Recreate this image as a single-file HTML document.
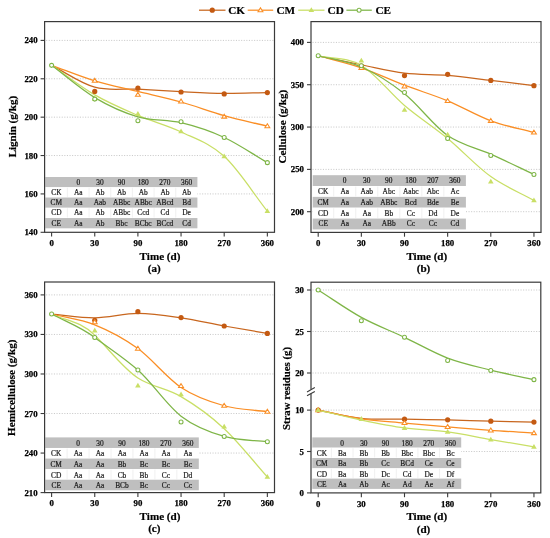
<!DOCTYPE html>
<html><head><meta charset="utf-8"><title>chart</title>
<style>
html,body{margin:0;padding:0;background:#fff;}
body{width:550px;height:538px;overflow:hidden;}
svg{display:block;will-change:transform;}
text{font-family:"Liberation Serif",serif;}
.tb{font-size:7.4px;fill:#1c1c1c;text-anchor:middle;stroke:#222;stroke-width:0.22px;}
.yt{font-size:8.8px;font-weight:bold;fill:#000;text-anchor:end;stroke:#000;stroke-width:0.25px;}
.xt{font-size:8.8px;font-weight:bold;fill:#000;text-anchor:middle;stroke:#000;stroke-width:0.25px;}
.ti{font-size:11.1px;font-weight:bold;fill:#000;text-anchor:middle;stroke:#000;stroke-width:0.2px;}
.lg{font-size:11.2px;font-weight:bold;fill:#000;stroke:#000;stroke-width:0.2px;}
</style></head>
<body>
<svg width="550" height="538" viewBox="0 0 550 538">
<rect width="550" height="538" fill="#fff"/>
<line x1="199" y1="10.2" x2="225.5" y2="10.2" stroke="#C8661E" stroke-width="1.25"/>
<circle cx="212.25" cy="10.2" r="2.6" fill="#C45A12"/>
<text x="228.2" y="13.9" class="lg">CK</text>
<line x1="247.7" y1="10.2" x2="273.2" y2="10.2" stroke="#FA8E25" stroke-width="1.25"/>
<polygon points="260.45,7.86 258,11.76 262.9,11.76" fill="#fff" stroke="#FA8E25" stroke-width="1.05" stroke-linejoin="miter"/>
<text x="276.5" y="13.9" class="lg">CM</text>
<line x1="298.2" y1="10.2" x2="324.5" y2="10.2" stroke="#C9DF66" stroke-width="1.25"/>
<polygon points="311.35,7.32 308.55,12.12 314.15,12.12" fill="#C9DF66"/>
<text x="327.6" y="13.9" class="lg">CD</text>
<line x1="346.4" y1="10.2" x2="371.8" y2="10.2" stroke="#7EB547" stroke-width="1.25"/>
<circle cx="359.1" cy="10.2" r="2.0" fill="#fff" stroke="#7EB547" stroke-width="1.05"/>
<text x="375.5" y="13.9" class="lg">CE</text>
<line x1="46.1" y1="40.4" x2="273.9" y2="40.4" stroke="#cacaca" stroke-width="1" stroke-dasharray="1.1 1.5"/>
<line x1="46.1" y1="78.78" x2="273.9" y2="78.78" stroke="#cacaca" stroke-width="1" stroke-dasharray="1.1 1.5"/>
<line x1="46.1" y1="117.16" x2="273.9" y2="117.16" stroke="#cacaca" stroke-width="1" stroke-dasharray="1.1 1.5"/>
<line x1="46.1" y1="155.54" x2="273.9" y2="155.54" stroke="#cacaca" stroke-width="1" stroke-dasharray="1.1 1.5"/>
<line x1="46.1" y1="193.92" x2="273.9" y2="193.92" stroke="#cacaca" stroke-width="1" stroke-dasharray="1.1 1.5"/>
<rect x="45.3" y="177" width="152.1" height="10.26" fill="#bfbfbf"/>
<text x="78.23" y="184.63" class="tb">0</text>
<text x="99.9" y="184.63" class="tb">30</text>
<text x="121.57" y="184.63" class="tb">90</text>
<text x="143.23" y="184.63" class="tb">180</text>
<text x="164.9" y="184.63" class="tb">270</text>
<text x="186.57" y="184.63" class="tb">360</text>
<rect x="45.3" y="187.26" width="152.1" height="10.26" fill="#fff"/>
<line x1="67.4" y1="187.76" x2="67.4" y2="197.02" stroke="#ececec" stroke-width="0.8"/>
<line x1="89.07" y1="187.76" x2="89.07" y2="197.02" stroke="#ececec" stroke-width="0.8"/>
<line x1="110.73" y1="187.76" x2="110.73" y2="197.02" stroke="#ececec" stroke-width="0.8"/>
<line x1="132.4" y1="187.76" x2="132.4" y2="197.02" stroke="#ececec" stroke-width="0.8"/>
<line x1="154.07" y1="187.76" x2="154.07" y2="197.02" stroke="#ececec" stroke-width="0.8"/>
<line x1="175.73" y1="187.76" x2="175.73" y2="197.02" stroke="#ececec" stroke-width="0.8"/>
<text x="56.35" y="194.89" class="tb">CK</text>
<text x="78.23" y="194.89" class="tb">Aa</text>
<text x="99.9" y="194.89" class="tb">Ab</text>
<text x="121.57" y="194.89" class="tb">Ab</text>
<text x="143.23" y="194.89" class="tb">Ab</text>
<text x="164.9" y="194.89" class="tb">Ab</text>
<text x="186.57" y="194.89" class="tb">Ab</text>
<rect x="45.3" y="197.52" width="152.1" height="10.26" fill="#bfbfbf"/>
<text x="56.35" y="205.15" class="tb">CM</text>
<text x="78.23" y="205.15" class="tb">Aa</text>
<text x="99.9" y="205.15" class="tb">Aab</text>
<text x="121.57" y="205.15" class="tb">ABbc</text>
<text x="143.23" y="205.15" class="tb">ABbc</text>
<text x="164.9" y="205.15" class="tb">ABcd</text>
<text x="186.57" y="205.15" class="tb">Bd</text>
<rect x="45.3" y="207.78" width="152.1" height="10.26" fill="#fff"/>
<line x1="67.4" y1="208.28" x2="67.4" y2="217.54" stroke="#ececec" stroke-width="0.8"/>
<line x1="89.07" y1="208.28" x2="89.07" y2="217.54" stroke="#ececec" stroke-width="0.8"/>
<line x1="110.73" y1="208.28" x2="110.73" y2="217.54" stroke="#ececec" stroke-width="0.8"/>
<line x1="132.4" y1="208.28" x2="132.4" y2="217.54" stroke="#ececec" stroke-width="0.8"/>
<line x1="154.07" y1="208.28" x2="154.07" y2="217.54" stroke="#ececec" stroke-width="0.8"/>
<line x1="175.73" y1="208.28" x2="175.73" y2="217.54" stroke="#ececec" stroke-width="0.8"/>
<text x="56.35" y="215.41" class="tb">CD</text>
<text x="78.23" y="215.41" class="tb">Aa</text>
<text x="99.9" y="215.41" class="tb">Ab</text>
<text x="121.57" y="215.41" class="tb">ABbc</text>
<text x="143.23" y="215.41" class="tb">Ccd</text>
<text x="164.9" y="215.41" class="tb">Cd</text>
<text x="186.57" y="215.41" class="tb">De</text>
<rect x="45.3" y="218.04" width="152.1" height="10.26" fill="#bfbfbf"/>
<text x="56.35" y="225.67" class="tb">CE</text>
<text x="78.23" y="225.67" class="tb">Aa</text>
<text x="99.9" y="225.67" class="tb">Ab</text>
<text x="121.57" y="225.67" class="tb">Bbc</text>
<text x="143.23" y="225.67" class="tb">BCbc</text>
<text x="164.9" y="225.67" class="tb">BCcd</text>
<text x="186.57" y="225.67" class="tb">Cd</text>
<path d="M51.6,65.35 C65.98,72.64 80.37,83.26 94.75,87.22 C109.13,91.19 123.52,88.41 137.9,89.14 C152.28,89.88 166.67,90.93 181.05,91.64 C195.43,92.34 209.82,93.2 224.2,93.36 C238.58,93.52 252.97,92.85 267.35,92.6" fill="none" stroke="#C8661E" stroke-width="1.25" stroke-linejoin="round"/>
<path d="M51.6,65.35 C65.98,70.53 80.37,76.54 94.75,80.89 C109.13,85.24 123.52,87.93 137.9,91.45 C152.28,94.96 166.67,97.97 181.05,102 C195.43,106.03 209.82,111.59 224.2,115.62 C238.58,119.65 252.97,122.66 267.35,126.18" fill="none" stroke="#FA8E25" stroke-width="1.25" stroke-linejoin="round"/>
<path d="M51.6,65.35 C65.98,75.2 80.37,86.55 94.75,94.9 C109.13,103.25 123.52,109.26 137.9,115.43 C152.28,121.61 166.67,125.12 181.05,131.94 C195.43,138.75 209.82,143.1 224.2,156.31 C238.58,169.52 252.97,192.9 267.35,211.19" fill="none" stroke="#C9DF66" stroke-width="1.25" stroke-linejoin="round"/>
<path d="M51.6,65.35 C65.98,76.09 80.37,89.01 94.75,97.59 C109.13,106.16 123.52,112.59 137.9,116.78 C152.28,120.97 166.67,119.27 181.05,122.73 C195.43,126.18 209.82,130.85 224.2,137.5 C238.58,144.15 252.97,154.26 267.35,162.64" fill="none" stroke="#7EB547" stroke-width="1.25" stroke-linejoin="round"/>
<circle cx="94.75" cy="91.45" r="2.6" fill="#C45A12"/>
<circle cx="137.9" cy="88.18" r="2.6" fill="#C45A12"/>
<circle cx="181.05" cy="92.02" r="2.6" fill="#C45A12"/>
<circle cx="224.2" cy="93.94" r="2.6" fill="#C45A12"/>
<circle cx="267.35" cy="92.6" r="2.6" fill="#C45A12"/>
<polygon points="94.75,78.36 92.3,82.26 97.2,82.26" fill="#fff" stroke="#FA8E25" stroke-width="1.05" stroke-linejoin="miter"/>
<polygon points="137.9,92.37 135.45,96.27 140.35,96.27" fill="#fff" stroke="#FA8E25" stroke-width="1.05" stroke-linejoin="miter"/>
<polygon points="181.05,99.08 178.6,102.98 183.5,102.98" fill="#fff" stroke="#FA8E25" stroke-width="1.05" stroke-linejoin="miter"/>
<polygon points="224.2,114.24 221.75,118.14 226.65,118.14" fill="#fff" stroke="#FA8E25" stroke-width="1.05" stroke-linejoin="miter"/>
<polygon points="267.35,123.84 264.9,127.74 269.8,127.74" fill="#fff" stroke="#FA8E25" stroke-width="1.05" stroke-linejoin="miter"/>
<polygon points="94.75,95.86 91.95,100.66 97.55,100.66" fill="#C9DF66"/>
<polygon points="137.9,111.02 135.1,115.82 140.7,115.82" fill="#C9DF66"/>
<polygon points="181.05,128.48 178.25,133.28 183.85,133.28" fill="#C9DF66"/>
<polygon points="224.2,153.43 221.4,158.23 227,158.23" fill="#C9DF66"/>
<polygon points="267.35,208.31 264.55,213.11 270.15,213.11" fill="#C9DF66"/>
<circle cx="51.6" cy="65.35" r="2.0" fill="#fff" stroke="#7EB547" stroke-width="1.05"/>
<circle cx="94.75" cy="99.12" r="2.0" fill="#fff" stroke="#7EB547" stroke-width="1.05"/>
<circle cx="137.9" cy="120.81" r="2.0" fill="#fff" stroke="#7EB547" stroke-width="1.05"/>
<circle cx="181.05" cy="121.77" r="2.0" fill="#fff" stroke="#7EB547" stroke-width="1.05"/>
<circle cx="224.2" cy="137.5" r="2.0" fill="#fff" stroke="#7EB547" stroke-width="1.05"/>
<circle cx="267.35" cy="162.64" r="2.0" fill="#fff" stroke="#7EB547" stroke-width="1.05"/>
<rect x="44.6" y="21.6" width="229.9" height="210.7" fill="none" stroke="#3a3a3a" stroke-width="1.2"/>
<line x1="40.6" y1="40.4" x2="44.6" y2="40.4" stroke="#3a3a3a" stroke-width="1.1"/>
<text x="37.6" y="43.4" class="yt">240</text>
<line x1="40.6" y1="78.78" x2="44.6" y2="78.78" stroke="#3a3a3a" stroke-width="1.1"/>
<text x="37.6" y="81.78" class="yt">220</text>
<line x1="40.6" y1="117.16" x2="44.6" y2="117.16" stroke="#3a3a3a" stroke-width="1.1"/>
<text x="37.6" y="120.16" class="yt">200</text>
<line x1="40.6" y1="155.54" x2="44.6" y2="155.54" stroke="#3a3a3a" stroke-width="1.1"/>
<text x="37.6" y="158.54" class="yt">180</text>
<line x1="40.6" y1="193.92" x2="44.6" y2="193.92" stroke="#3a3a3a" stroke-width="1.1"/>
<text x="37.6" y="196.92" class="yt">160</text>
<line x1="40.6" y1="232.3" x2="44.6" y2="232.3" stroke="#3a3a3a" stroke-width="1.1"/>
<text x="37.6" y="235.3" class="yt">140</text>
<line x1="51.6" y1="232.3" x2="51.6" y2="236.6" stroke="#3a3a3a" stroke-width="1.1"/>
<text x="51.6" y="245.9" class="xt">0</text>
<line x1="94.75" y1="232.3" x2="94.75" y2="236.6" stroke="#3a3a3a" stroke-width="1.1"/>
<text x="94.75" y="245.9" class="xt">30</text>
<line x1="137.9" y1="232.3" x2="137.9" y2="236.6" stroke="#3a3a3a" stroke-width="1.1"/>
<text x="137.9" y="245.9" class="xt">90</text>
<line x1="181.05" y1="232.3" x2="181.05" y2="236.6" stroke="#3a3a3a" stroke-width="1.1"/>
<text x="181.05" y="245.9" class="xt">180</text>
<line x1="224.2" y1="232.3" x2="224.2" y2="236.6" stroke="#3a3a3a" stroke-width="1.1"/>
<text x="224.2" y="245.9" class="xt">270</text>
<line x1="267.35" y1="232.3" x2="267.35" y2="236.6" stroke="#3a3a3a" stroke-width="1.1"/>
<text x="267.35" y="245.9" class="xt">360</text>
<text x="160" y="259.8" class="ti">Time (d)</text>
<text x="154.3" y="271.9" class="ti">(a)</text>
<text transform="translate(15.8,126.6) rotate(-90)" class="ti" style="font-size:11px">Lignin (g/kg)</text>
<line x1="312.5" y1="42.4" x2="540.4" y2="42.4" stroke="#cacaca" stroke-width="1" stroke-dasharray="1.1 1.5"/>
<line x1="312.5" y1="84.72" x2="540.4" y2="84.72" stroke="#cacaca" stroke-width="1" stroke-dasharray="1.1 1.5"/>
<line x1="312.5" y1="127.05" x2="540.4" y2="127.05" stroke="#cacaca" stroke-width="1" stroke-dasharray="1.1 1.5"/>
<line x1="312.5" y1="169.38" x2="540.4" y2="169.38" stroke="#cacaca" stroke-width="1" stroke-dasharray="1.1 1.5"/>
<line x1="312.5" y1="211.7" x2="540.4" y2="211.7" stroke="#cacaca" stroke-width="1" stroke-dasharray="1.1 1.5"/>
<rect x="312.7" y="175.2" width="153.2" height="10.84" fill="#bfbfbf"/>
<text x="344.72" y="183.12" class="tb">0</text>
<text x="366.75" y="183.12" class="tb">30</text>
<text x="388.78" y="183.12" class="tb">90</text>
<text x="410.82" y="183.12" class="tb">180</text>
<text x="432.85" y="183.12" class="tb">207</text>
<text x="454.88" y="183.12" class="tb">360</text>
<rect x="312.7" y="186.04" width="153.2" height="10.84" fill="#fff"/>
<line x1="333.7" y1="186.54" x2="333.7" y2="196.38" stroke="#ececec" stroke-width="0.8"/>
<line x1="355.73" y1="186.54" x2="355.73" y2="196.38" stroke="#ececec" stroke-width="0.8"/>
<line x1="377.77" y1="186.54" x2="377.77" y2="196.38" stroke="#ececec" stroke-width="0.8"/>
<line x1="399.8" y1="186.54" x2="399.8" y2="196.38" stroke="#ececec" stroke-width="0.8"/>
<line x1="421.83" y1="186.54" x2="421.83" y2="196.38" stroke="#ececec" stroke-width="0.8"/>
<line x1="443.87" y1="186.54" x2="443.87" y2="196.38" stroke="#ececec" stroke-width="0.8"/>
<text x="323.2" y="193.96" class="tb">CK</text>
<text x="344.72" y="193.96" class="tb">Aa</text>
<text x="366.75" y="193.96" class="tb">Aab</text>
<text x="388.78" y="193.96" class="tb">Abc</text>
<text x="410.82" y="193.96" class="tb">Aabc</text>
<text x="432.85" y="193.96" class="tb">Abc</text>
<text x="454.88" y="193.96" class="tb">Ac</text>
<rect x="312.7" y="196.88" width="153.2" height="10.84" fill="#bfbfbf"/>
<text x="323.2" y="204.8" class="tb">CM</text>
<text x="344.72" y="204.8" class="tb">Aa</text>
<text x="366.75" y="204.8" class="tb">Aab</text>
<text x="388.78" y="204.8" class="tb">ABbc</text>
<text x="410.82" y="204.8" class="tb">Bcd</text>
<text x="432.85" y="204.8" class="tb">Bde</text>
<text x="454.88" y="204.8" class="tb">Be</text>
<rect x="312.7" y="207.72" width="153.2" height="10.84" fill="#fff"/>
<line x1="333.7" y1="208.22" x2="333.7" y2="218.06" stroke="#ececec" stroke-width="0.8"/>
<line x1="355.73" y1="208.22" x2="355.73" y2="218.06" stroke="#ececec" stroke-width="0.8"/>
<line x1="377.77" y1="208.22" x2="377.77" y2="218.06" stroke="#ececec" stroke-width="0.8"/>
<line x1="399.8" y1="208.22" x2="399.8" y2="218.06" stroke="#ececec" stroke-width="0.8"/>
<line x1="421.83" y1="208.22" x2="421.83" y2="218.06" stroke="#ececec" stroke-width="0.8"/>
<line x1="443.87" y1="208.22" x2="443.87" y2="218.06" stroke="#ececec" stroke-width="0.8"/>
<text x="323.2" y="215.64" class="tb">CD</text>
<text x="344.72" y="215.64" class="tb">Aa</text>
<text x="366.75" y="215.64" class="tb">Aa</text>
<text x="388.78" y="215.64" class="tb">Bb</text>
<text x="410.82" y="215.64" class="tb">Cc</text>
<text x="432.85" y="215.64" class="tb">Dd</text>
<text x="454.88" y="215.64" class="tb">De</text>
<rect x="312.7" y="218.56" width="153.2" height="10.84" fill="#bfbfbf"/>
<text x="323.2" y="226.48" class="tb">CE</text>
<text x="344.72" y="226.48" class="tb">Aa</text>
<text x="366.75" y="226.48" class="tb">Aa</text>
<text x="388.78" y="226.48" class="tb">ABb</text>
<text x="410.82" y="226.48" class="tb">Cc</text>
<text x="432.85" y="226.48" class="tb">Cc</text>
<text x="454.88" y="226.48" class="tb">Cd</text>
<path d="M318.2,55.77 C332.58,58.77 346.97,61.84 361.35,64.75 C375.73,67.65 390.12,71.43 404.5,73.21 C418.88,74.99 433.27,74.21 447.65,75.41 C462.03,76.61 476.42,78.7 490.8,80.41 C505.18,82.11 519.57,83.91 533.95,85.66" fill="none" stroke="#C8661E" stroke-width="1.25" stroke-linejoin="round"/>
<path d="M318.2,55.77 C332.58,59.78 346.97,62.9 361.35,67.8 C375.73,72.69 390.12,79.65 404.5,85.15 C418.88,90.65 433.27,94.87 447.65,100.81 C462.03,106.75 476.42,115.51 490.8,120.79 C505.18,126.06 519.57,128.57 533.95,132.47" fill="none" stroke="#FA8E25" stroke-width="1.25" stroke-linejoin="round"/>
<path d="M318.2,55.77 C332.58,58.99 346.97,57.14 361.35,65.42 C375.73,73.71 390.12,93.29 404.5,105.46 C418.88,117.64 433.27,126.63 447.65,138.48 C462.03,150.33 476.42,166.26 490.8,176.57 C505.18,186.88 519.57,192.43 533.95,200.36" fill="none" stroke="#C9DF66" stroke-width="1.25" stroke-linejoin="round"/>
<path d="M318.2,55.77 C332.58,59.5 346.97,60.61 361.35,66.95 C375.73,73.28 390.12,82.35 404.5,93.78 C418.88,105.21 433.27,125.46 447.65,135.52 C462.03,145.57 476.42,147.65 490.8,154.14 C505.18,160.63 519.57,167.68 533.95,174.45" fill="none" stroke="#7EB547" stroke-width="1.25" stroke-linejoin="round"/>
<circle cx="361.35" cy="66.1" r="2.6" fill="#C45A12"/>
<circle cx="404.5" cy="75.58" r="2.6" fill="#C45A12"/>
<circle cx="447.65" cy="74.31" r="2.6" fill="#C45A12"/>
<circle cx="490.8" cy="80.41" r="2.6" fill="#C45A12"/>
<circle cx="533.95" cy="85.66" r="2.6" fill="#C45A12"/>
<polygon points="361.35,65.62 358.9,69.52 363.8,69.52" fill="#fff" stroke="#FA8E25" stroke-width="1.05" stroke-linejoin="miter"/>
<polygon points="404.5,84.08 402.05,87.98 406.95,87.98" fill="#fff" stroke="#FA8E25" stroke-width="1.05" stroke-linejoin="miter"/>
<polygon points="447.65,98.64 445.2,102.54 450.1,102.54" fill="#fff" stroke="#FA8E25" stroke-width="1.05" stroke-linejoin="miter"/>
<polygon points="490.8,118.45 488.35,122.35 493.25,122.35" fill="#fff" stroke="#FA8E25" stroke-width="1.05" stroke-linejoin="miter"/>
<polygon points="533.95,130.13 531.5,134.03 536.4,134.03" fill="#fff" stroke="#FA8E25" stroke-width="1.05" stroke-linejoin="miter"/>
<polygon points="361.35,57.72 358.55,62.52 364.15,62.52" fill="#C9DF66"/>
<polygon points="404.5,106.99 401.7,111.79 407.3,111.79" fill="#C9DF66"/>
<polygon points="447.65,131.79 444.85,136.59 450.45,136.59" fill="#C9DF66"/>
<polygon points="490.8,178.77 488,183.57 493.6,183.57" fill="#C9DF66"/>
<polygon points="533.95,197.48 531.15,202.28 536.75,202.28" fill="#C9DF66"/>
<circle cx="318.2" cy="55.77" r="2.0" fill="#fff" stroke="#7EB547" stroke-width="1.05"/>
<circle cx="361.35" cy="65.76" r="2.0" fill="#fff" stroke="#7EB547" stroke-width="1.05"/>
<circle cx="404.5" cy="92.51" r="2.0" fill="#fff" stroke="#7EB547" stroke-width="1.05"/>
<circle cx="447.65" cy="138.56" r="2.0" fill="#fff" stroke="#7EB547" stroke-width="1.05"/>
<circle cx="490.8" cy="155.49" r="2.0" fill="#fff" stroke="#7EB547" stroke-width="1.05"/>
<circle cx="533.95" cy="174.45" r="2.0" fill="#fff" stroke="#7EB547" stroke-width="1.05"/>
<rect x="311" y="21.6" width="230" height="210.8" fill="none" stroke="#3a3a3a" stroke-width="1.2"/>
<line x1="307" y1="42.4" x2="311" y2="42.4" stroke="#3a3a3a" stroke-width="1.1"/>
<text x="304" y="45.4" class="yt">400</text>
<line x1="307" y1="84.72" x2="311" y2="84.72" stroke="#3a3a3a" stroke-width="1.1"/>
<text x="304" y="87.72" class="yt">350</text>
<line x1="307" y1="127.05" x2="311" y2="127.05" stroke="#3a3a3a" stroke-width="1.1"/>
<text x="304" y="130.05" class="yt">300</text>
<line x1="307" y1="169.38" x2="311" y2="169.38" stroke="#3a3a3a" stroke-width="1.1"/>
<text x="304" y="172.38" class="yt">250</text>
<line x1="307" y1="211.7" x2="311" y2="211.7" stroke="#3a3a3a" stroke-width="1.1"/>
<text x="304" y="214.7" class="yt">200</text>
<line x1="318.2" y1="232.4" x2="318.2" y2="236.7" stroke="#3a3a3a" stroke-width="1.1"/>
<text x="318.2" y="246" class="xt">0</text>
<line x1="361.35" y1="232.4" x2="361.35" y2="236.7" stroke="#3a3a3a" stroke-width="1.1"/>
<text x="361.35" y="246" class="xt">30</text>
<line x1="404.5" y1="232.4" x2="404.5" y2="236.7" stroke="#3a3a3a" stroke-width="1.1"/>
<text x="404.5" y="246" class="xt">90</text>
<line x1="447.65" y1="232.4" x2="447.65" y2="236.7" stroke="#3a3a3a" stroke-width="1.1"/>
<text x="447.65" y="246" class="xt">180</text>
<line x1="490.8" y1="232.4" x2="490.8" y2="236.7" stroke="#3a3a3a" stroke-width="1.1"/>
<text x="490.8" y="246" class="xt">270</text>
<line x1="533.95" y1="232.4" x2="533.95" y2="236.7" stroke="#3a3a3a" stroke-width="1.1"/>
<text x="533.95" y="246" class="xt">360</text>
<text x="426.8" y="259.9" class="ti">Time (d)</text>
<text x="423.5" y="272" class="ti">(b)</text>
<text transform="translate(286.2,126.7) rotate(-90)" class="ti" style="font-size:11.1px">Cellulose (g/kg)</text>
<line x1="46.1" y1="294.9" x2="273.9" y2="294.9" stroke="#cacaca" stroke-width="1" stroke-dasharray="1.1 1.5"/>
<line x1="46.1" y1="334.44" x2="273.9" y2="334.44" stroke="#cacaca" stroke-width="1" stroke-dasharray="1.1 1.5"/>
<line x1="46.1" y1="373.98" x2="273.9" y2="373.98" stroke="#cacaca" stroke-width="1" stroke-dasharray="1.1 1.5"/>
<line x1="46.1" y1="413.52" x2="273.9" y2="413.52" stroke="#cacaca" stroke-width="1" stroke-dasharray="1.1 1.5"/>
<line x1="46.1" y1="453.06" x2="273.9" y2="453.06" stroke="#cacaca" stroke-width="1" stroke-dasharray="1.1 1.5"/>
<rect x="45.3" y="437.4" width="153.5" height="10.58" fill="#bfbfbf"/>
<text x="78.07" y="445.79" class="tb">0</text>
<text x="100.02" y="445.79" class="tb">30</text>
<text x="121.97" y="445.79" class="tb">90</text>
<text x="143.93" y="445.79" class="tb">180</text>
<text x="165.88" y="445.79" class="tb">270</text>
<text x="187.82" y="445.79" class="tb">360</text>
<rect x="45.3" y="447.98" width="153.5" height="10.58" fill="#fff"/>
<line x1="67.1" y1="448.48" x2="67.1" y2="458.06" stroke="#ececec" stroke-width="0.8"/>
<line x1="89.05" y1="448.48" x2="89.05" y2="458.06" stroke="#ececec" stroke-width="0.8"/>
<line x1="111" y1="448.48" x2="111" y2="458.06" stroke="#ececec" stroke-width="0.8"/>
<line x1="132.95" y1="448.48" x2="132.95" y2="458.06" stroke="#ececec" stroke-width="0.8"/>
<line x1="154.9" y1="448.48" x2="154.9" y2="458.06" stroke="#ececec" stroke-width="0.8"/>
<line x1="176.85" y1="448.48" x2="176.85" y2="458.06" stroke="#ececec" stroke-width="0.8"/>
<text x="56.2" y="456.37" class="tb">CK</text>
<text x="78.07" y="456.37" class="tb">Aa</text>
<text x="100.02" y="456.37" class="tb">Aa</text>
<text x="121.97" y="456.37" class="tb">Aa</text>
<text x="143.93" y="456.37" class="tb">Aa</text>
<text x="165.88" y="456.37" class="tb">Aa</text>
<text x="187.82" y="456.37" class="tb">Aa</text>
<rect x="45.3" y="458.56" width="153.5" height="10.58" fill="#bfbfbf"/>
<text x="56.2" y="466.95" class="tb">CM</text>
<text x="78.07" y="466.95" class="tb">Aa</text>
<text x="100.02" y="466.95" class="tb">Aa</text>
<text x="121.97" y="466.95" class="tb">Bb</text>
<text x="143.93" y="466.95" class="tb">Bc</text>
<text x="165.88" y="466.95" class="tb">Bc</text>
<text x="187.82" y="466.95" class="tb">Bc</text>
<rect x="45.3" y="469.14" width="153.5" height="10.58" fill="#fff"/>
<line x1="67.1" y1="469.64" x2="67.1" y2="479.22" stroke="#ececec" stroke-width="0.8"/>
<line x1="89.05" y1="469.64" x2="89.05" y2="479.22" stroke="#ececec" stroke-width="0.8"/>
<line x1="111" y1="469.64" x2="111" y2="479.22" stroke="#ececec" stroke-width="0.8"/>
<line x1="132.95" y1="469.64" x2="132.95" y2="479.22" stroke="#ececec" stroke-width="0.8"/>
<line x1="154.9" y1="469.64" x2="154.9" y2="479.22" stroke="#ececec" stroke-width="0.8"/>
<line x1="176.85" y1="469.64" x2="176.85" y2="479.22" stroke="#ececec" stroke-width="0.8"/>
<text x="56.2" y="477.53" class="tb">CD</text>
<text x="78.07" y="477.53" class="tb">Aa</text>
<text x="100.02" y="477.53" class="tb">Aa</text>
<text x="121.97" y="477.53" class="tb">Cb</text>
<text x="143.93" y="477.53" class="tb">Bb</text>
<text x="165.88" y="477.53" class="tb">Cc</text>
<text x="187.82" y="477.53" class="tb">Dd</text>
<rect x="45.3" y="479.72" width="153.5" height="10.58" fill="#bfbfbf"/>
<text x="56.2" y="488.11" class="tb">CE</text>
<text x="78.07" y="488.11" class="tb">Aa</text>
<text x="100.02" y="488.11" class="tb">Aa</text>
<text x="121.97" y="488.11" class="tb">BCb</text>
<text x="143.93" y="488.11" class="tb">Bc</text>
<text x="165.88" y="488.11" class="tb">Cc</text>
<text x="187.82" y="488.11" class="tb">Cc</text>
<path d="M51.6,314.01 C65.98,315.29 80.37,317.92 94.75,317.83 C109.13,317.75 123.52,313.48 137.9,313.48 C152.28,313.48 166.67,315.75 181.05,317.83 C195.43,319.92 209.82,323.41 224.2,326 C238.58,328.6 252.97,330.93 267.35,333.39" fill="none" stroke="#C8661E" stroke-width="1.25" stroke-linejoin="round"/>
<path d="M51.6,314.01 C65.98,317.61 80.37,319.06 94.75,324.82 C109.13,330.57 123.52,338.11 137.9,348.54 C152.28,358.98 166.67,377.89 181.05,387.42 C195.43,396.96 209.82,401.7 224.2,405.74 C238.58,409.79 252.97,409.7 267.35,411.67" fill="none" stroke="#FA8E25" stroke-width="1.25" stroke-linejoin="round"/>
<path d="M51.6,314.01 C65.98,321.04 80.37,320.82 94.75,335.1 C109.13,349.38 123.52,368.71 137.9,377.93 C152.28,387.16 166.67,388.19 181.05,396.65 C195.43,405.11 209.82,415.3 224.2,428.68 C238.58,442.05 252.97,460.84 267.35,476.92" fill="none" stroke="#C9DF66" stroke-width="1.25" stroke-linejoin="round"/>
<path d="M51.6,314.01 C65.98,321.83 80.37,326.71 94.75,337.47 C109.13,348.24 123.52,357.29 137.9,370.03 C152.28,382.77 166.67,405.08 181.05,416.16 C195.43,427.23 209.82,432.19 224.2,436.45 C238.58,440.71 252.97,439.97 267.35,441.73" fill="none" stroke="#7EB547" stroke-width="1.25" stroke-linejoin="round"/>
<circle cx="94.75" cy="320.34" r="2.6" fill="#C45A12"/>
<circle cx="137.9" cy="311.64" r="2.6" fill="#C45A12"/>
<circle cx="181.05" cy="317.57" r="2.6" fill="#C45A12"/>
<circle cx="224.2" cy="326" r="2.6" fill="#C45A12"/>
<circle cx="267.35" cy="333.39" r="2.6" fill="#C45A12"/>
<polygon points="94.75,319.84 92.3,323.74 97.2,323.74" fill="#fff" stroke="#FA8E25" stroke-width="1.05" stroke-linejoin="miter"/>
<polygon points="137.9,346.33 135.45,350.23 140.35,350.23" fill="#fff" stroke="#FA8E25" stroke-width="1.05" stroke-linejoin="miter"/>
<polygon points="181.05,383.63 178.6,387.53 183.5,387.53" fill="#fff" stroke="#FA8E25" stroke-width="1.05" stroke-linejoin="miter"/>
<polygon points="224.2,403.4 221.75,407.3 226.65,407.3" fill="#fff" stroke="#FA8E25" stroke-width="1.05" stroke-linejoin="miter"/>
<polygon points="267.35,409.33 264.9,413.23 269.8,413.23" fill="#fff" stroke="#FA8E25" stroke-width="1.05" stroke-linejoin="miter"/>
<polygon points="94.75,327.61 91.95,332.41 97.55,332.41" fill="#C9DF66"/>
<polygon points="137.9,382.7 135.1,387.5 140.7,387.5" fill="#C9DF66"/>
<polygon points="181.05,391.53 178.25,396.33 183.85,396.33" fill="#C9DF66"/>
<polygon points="224.2,423.82 221.4,428.62 227,428.62" fill="#C9DF66"/>
<polygon points="267.35,474.04 264.55,478.84 270.15,478.84" fill="#C9DF66"/>
<circle cx="51.6" cy="314.01" r="2.0" fill="#fff" stroke="#7EB547" stroke-width="1.05"/>
<circle cx="94.75" cy="337.47" r="2.0" fill="#fff" stroke="#7EB547" stroke-width="1.05"/>
<circle cx="137.9" cy="370.03" r="2.0" fill="#fff" stroke="#7EB547" stroke-width="1.05"/>
<circle cx="181.05" cy="421.96" r="2.0" fill="#fff" stroke="#7EB547" stroke-width="1.05"/>
<circle cx="224.2" cy="436.45" r="2.0" fill="#fff" stroke="#7EB547" stroke-width="1.05"/>
<circle cx="267.35" cy="441.73" r="2.0" fill="#fff" stroke="#7EB547" stroke-width="1.05"/>
<rect x="44.6" y="282" width="229.9" height="210.6" fill="none" stroke="#3a3a3a" stroke-width="1.2"/>
<line x1="40.6" y1="294.9" x2="44.6" y2="294.9" stroke="#3a3a3a" stroke-width="1.1"/>
<text x="37.6" y="297.9" class="yt">360</text>
<line x1="40.6" y1="334.44" x2="44.6" y2="334.44" stroke="#3a3a3a" stroke-width="1.1"/>
<text x="37.6" y="337.44" class="yt">330</text>
<line x1="40.6" y1="373.98" x2="44.6" y2="373.98" stroke="#3a3a3a" stroke-width="1.1"/>
<text x="37.6" y="376.98" class="yt">300</text>
<line x1="40.6" y1="413.52" x2="44.6" y2="413.52" stroke="#3a3a3a" stroke-width="1.1"/>
<text x="37.6" y="416.52" class="yt">270</text>
<line x1="40.6" y1="453.06" x2="44.6" y2="453.06" stroke="#3a3a3a" stroke-width="1.1"/>
<text x="37.6" y="456.06" class="yt">240</text>
<line x1="40.6" y1="492.6" x2="44.6" y2="492.6" stroke="#3a3a3a" stroke-width="1.1"/>
<text x="37.6" y="495.6" class="yt">210</text>
<line x1="51.6" y1="492.6" x2="51.6" y2="496.9" stroke="#3a3a3a" stroke-width="1.1"/>
<text x="51.6" y="506.2" class="xt">0</text>
<line x1="94.75" y1="492.6" x2="94.75" y2="496.9" stroke="#3a3a3a" stroke-width="1.1"/>
<text x="94.75" y="506.2" class="xt">30</text>
<line x1="137.9" y1="492.6" x2="137.9" y2="496.9" stroke="#3a3a3a" stroke-width="1.1"/>
<text x="137.9" y="506.2" class="xt">90</text>
<line x1="181.05" y1="492.6" x2="181.05" y2="496.9" stroke="#3a3a3a" stroke-width="1.1"/>
<text x="181.05" y="506.2" class="xt">180</text>
<line x1="224.2" y1="492.6" x2="224.2" y2="496.9" stroke="#3a3a3a" stroke-width="1.1"/>
<text x="224.2" y="506.2" class="xt">270</text>
<line x1="267.35" y1="492.6" x2="267.35" y2="496.9" stroke="#3a3a3a" stroke-width="1.1"/>
<text x="267.35" y="506.2" class="xt">360</text>
<text x="160" y="520.1" class="ti">Time (d)</text>
<text x="154.3" y="532.2" class="ti">(c)</text>
<text transform="translate(15.2,387.7) rotate(-90)" class="ti" style="font-size:11.1px">Hemicellulose (g/kg)</text>
<line x1="312.5" y1="290" x2="540.2" y2="290" stroke="#cacaca" stroke-width="1" stroke-dasharray="1.1 1.5"/>
<line x1="312.5" y1="331.5" x2="540.2" y2="331.5" stroke="#cacaca" stroke-width="1" stroke-dasharray="1.1 1.5"/>
<line x1="312.5" y1="373" x2="540.2" y2="373" stroke="#cacaca" stroke-width="1" stroke-dasharray="1.1 1.5"/>
<line x1="312.5" y1="410.1" x2="540.2" y2="410.1" stroke="#cacaca" stroke-width="1" stroke-dasharray="1.1 1.5"/>
<line x1="312.5" y1="451.5" x2="540.2" y2="451.5" stroke="#cacaca" stroke-width="1" stroke-dasharray="1.1 1.5"/>
<rect x="312.3" y="437.4" width="148.9" height="10.3" fill="#bfbfbf"/>
<text x="342.22" y="445.65" class="tb">0</text>
<text x="363.85" y="445.65" class="tb">30</text>
<text x="385.48" y="445.65" class="tb">90</text>
<text x="407.12" y="445.65" class="tb">180</text>
<text x="428.75" y="445.65" class="tb">270</text>
<text x="450.38" y="445.65" class="tb">360</text>
<rect x="312.3" y="447.7" width="148.9" height="10.3" fill="#fff"/>
<line x1="331.4" y1="448.2" x2="331.4" y2="457.5" stroke="#ececec" stroke-width="0.8"/>
<line x1="353.03" y1="448.2" x2="353.03" y2="457.5" stroke="#ececec" stroke-width="0.8"/>
<line x1="374.67" y1="448.2" x2="374.67" y2="457.5" stroke="#ececec" stroke-width="0.8"/>
<line x1="396.3" y1="448.2" x2="396.3" y2="457.5" stroke="#ececec" stroke-width="0.8"/>
<line x1="417.93" y1="448.2" x2="417.93" y2="457.5" stroke="#ececec" stroke-width="0.8"/>
<line x1="439.57" y1="448.2" x2="439.57" y2="457.5" stroke="#ececec" stroke-width="0.8"/>
<text x="321.85" y="455.95" class="tb">CK</text>
<text x="342.22" y="455.95" class="tb">Ba</text>
<text x="363.85" y="455.95" class="tb">Bb</text>
<text x="385.48" y="455.95" class="tb">Bb</text>
<text x="407.12" y="455.95" class="tb">Bbc</text>
<text x="428.75" y="455.95" class="tb">Bbc</text>
<text x="450.38" y="455.95" class="tb">Bc</text>
<rect x="312.3" y="458" width="148.9" height="10.3" fill="#bfbfbf"/>
<text x="321.85" y="466.25" class="tb">CM</text>
<text x="342.22" y="466.25" class="tb">Ba</text>
<text x="363.85" y="466.25" class="tb">Bb</text>
<text x="385.48" y="466.25" class="tb">Cc</text>
<text x="407.12" y="466.25" class="tb">BCd</text>
<text x="428.75" y="466.25" class="tb">Ce</text>
<text x="450.38" y="466.25" class="tb">Ce</text>
<rect x="312.3" y="468.3" width="148.9" height="10.3" fill="#fff"/>
<line x1="331.4" y1="468.8" x2="331.4" y2="478.1" stroke="#ececec" stroke-width="0.8"/>
<line x1="353.03" y1="468.8" x2="353.03" y2="478.1" stroke="#ececec" stroke-width="0.8"/>
<line x1="374.67" y1="468.8" x2="374.67" y2="478.1" stroke="#ececec" stroke-width="0.8"/>
<line x1="396.3" y1="468.8" x2="396.3" y2="478.1" stroke="#ececec" stroke-width="0.8"/>
<line x1="417.93" y1="468.8" x2="417.93" y2="478.1" stroke="#ececec" stroke-width="0.8"/>
<line x1="439.57" y1="468.8" x2="439.57" y2="478.1" stroke="#ececec" stroke-width="0.8"/>
<text x="321.85" y="476.55" class="tb">CD</text>
<text x="342.22" y="476.55" class="tb">Ba</text>
<text x="363.85" y="476.55" class="tb">Bb</text>
<text x="385.48" y="476.55" class="tb">Dc</text>
<text x="407.12" y="476.55" class="tb">Cd</text>
<text x="428.75" y="476.55" class="tb">De</text>
<text x="450.38" y="476.55" class="tb">Df</text>
<rect x="312.3" y="478.6" width="148.9" height="10.3" fill="#bfbfbf"/>
<text x="321.85" y="486.85" class="tb">CE</text>
<text x="342.22" y="486.85" class="tb">Aa</text>
<text x="363.85" y="486.85" class="tb">Ab</text>
<text x="385.48" y="486.85" class="tb">Ac</text>
<text x="407.12" y="486.85" class="tb">Ad</text>
<text x="428.75" y="486.85" class="tb">Ae</text>
<text x="450.38" y="486.85" class="tb">Af</text>
<path d="M318.2,410.1 C332.58,412.86 346.97,416.86 361.35,418.38 C375.73,419.9 390.12,418.96 404.5,419.21 C418.88,419.46 433.27,419.54 447.65,419.87 C462.03,420.2 476.42,420.82 490.8,421.2 C505.18,421.57 519.57,421.8 533.95,422.11" fill="none" stroke="#C8661E" stroke-width="1.25" stroke-linejoin="round"/>
<path d="M318.2,410.1 C332.58,413 346.97,416.64 361.35,418.79 C375.73,420.95 390.12,421.66 404.5,423.02 C418.88,424.37 433.27,425.68 447.65,426.91 C462.03,428.14 476.42,429.36 490.8,430.39 C505.18,431.41 519.57,432.15 533.95,433.04" fill="none" stroke="#FA8E25" stroke-width="1.25" stroke-linejoin="round"/>
<path d="M318.2,410.1 C332.58,413.41 346.97,417.06 361.35,420.04 C375.73,423.02 390.12,426.01 404.5,427.98 C418.88,429.96 433.27,429.94 447.65,431.88 C462.03,433.81 476.42,437.09 490.8,439.58 C505.18,442.06 519.57,444.38 533.95,446.78" fill="none" stroke="#C9DF66" stroke-width="1.25" stroke-linejoin="round"/>
<path d="M318.2,290 C332.58,299.13 346.97,309.5 361.35,317.39 C375.73,325.27 390.12,330.53 404.5,337.31 C418.88,344.09 433.27,352.6 447.65,358.06 C462.03,363.52 476.42,366.5 490.8,370.1 C505.18,373.69 519.57,376.46 533.95,379.64" fill="none" stroke="#7EB547" stroke-width="1.25" stroke-linejoin="round"/>
<circle cx="318.2" cy="410.1" r="2.6" fill="#C45A12"/>
<circle cx="404.5" cy="419.21" r="2.6" fill="#C45A12"/>
<circle cx="447.65" cy="419.87" r="2.6" fill="#C45A12"/>
<circle cx="490.8" cy="421.2" r="2.6" fill="#C45A12"/>
<circle cx="533.95" cy="422.11" r="2.6" fill="#C45A12"/>
<polygon points="318.2,407.76 315.75,411.66 320.65,411.66" fill="#fff" stroke="#FA8E25" stroke-width="1.05" stroke-linejoin="miter"/>
<polygon points="404.5,420.68 402.05,424.58 406.95,424.58" fill="#fff" stroke="#FA8E25" stroke-width="1.05" stroke-linejoin="miter"/>
<polygon points="447.65,424.57 445.2,428.47 450.1,428.47" fill="#fff" stroke="#FA8E25" stroke-width="1.05" stroke-linejoin="miter"/>
<polygon points="490.8,428.05 488.35,431.95 493.25,431.95" fill="#fff" stroke="#FA8E25" stroke-width="1.05" stroke-linejoin="miter"/>
<polygon points="533.95,430.7 531.5,434.6 536.4,434.6" fill="#fff" stroke="#FA8E25" stroke-width="1.05" stroke-linejoin="miter"/>
<polygon points="318.2,407.22 315.4,412.02 321,412.02" fill="#C9DF66"/>
<polygon points="361.35,416.08 358.55,420.88 364.15,420.88" fill="#C9DF66"/>
<polygon points="404.5,425.1 401.7,429.9 407.3,429.9" fill="#C9DF66"/>
<polygon points="447.65,429 444.85,433.8 450.45,433.8" fill="#C9DF66"/>
<polygon points="490.8,436.7 488,441.5 493.6,441.5" fill="#C9DF66"/>
<polygon points="533.95,443.9 531.15,448.7 536.75,448.7" fill="#C9DF66"/>
<circle cx="318.2" cy="290" r="2.0" fill="#fff" stroke="#7EB547" stroke-width="1.05"/>
<circle cx="361.35" cy="320.71" r="2.0" fill="#fff" stroke="#7EB547" stroke-width="1.05"/>
<circle cx="404.5" cy="337.31" r="2.0" fill="#fff" stroke="#7EB547" stroke-width="1.05"/>
<circle cx="447.65" cy="360.55" r="2.0" fill="#fff" stroke="#7EB547" stroke-width="1.05"/>
<circle cx="490.8" cy="370.51" r="2.0" fill="#fff" stroke="#7EB547" stroke-width="1.05"/>
<circle cx="533.95" cy="379.64" r="2.0" fill="#fff" stroke="#7EB547" stroke-width="1.05"/>
<rect x="311" y="282.2" width="229.8" height="210.7" fill="none" stroke="#3a3a3a" stroke-width="1.2"/>
<line x1="307" y1="290" x2="311" y2="290" stroke="#3a3a3a" stroke-width="1.1"/>
<text x="304" y="293" class="yt">30</text>
<line x1="307" y1="331.5" x2="311" y2="331.5" stroke="#3a3a3a" stroke-width="1.1"/>
<text x="304" y="334.5" class="yt">25</text>
<line x1="307" y1="373" x2="311" y2="373" stroke="#3a3a3a" stroke-width="1.1"/>
<text x="304" y="376" class="yt">20</text>
<line x1="307" y1="410.1" x2="311" y2="410.1" stroke="#3a3a3a" stroke-width="1.1"/>
<text x="304" y="413.1" class="yt">10</text>
<line x1="307" y1="451.5" x2="311" y2="451.5" stroke="#3a3a3a" stroke-width="1.1"/>
<text x="304" y="454.5" class="yt">5</text>
<line x1="307" y1="492.9" x2="311" y2="492.9" stroke="#3a3a3a" stroke-width="1.1"/>
<text x="304" y="495.9" class="yt">0</text>
<line x1="318.2" y1="492.9" x2="318.2" y2="497.2" stroke="#3a3a3a" stroke-width="1.1"/>
<text x="318.2" y="506.5" class="xt">0</text>
<line x1="361.35" y1="492.9" x2="361.35" y2="497.2" stroke="#3a3a3a" stroke-width="1.1"/>
<text x="361.35" y="506.5" class="xt">30</text>
<line x1="404.5" y1="492.9" x2="404.5" y2="497.2" stroke="#3a3a3a" stroke-width="1.1"/>
<text x="404.5" y="506.5" class="xt">90</text>
<line x1="447.65" y1="492.9" x2="447.65" y2="497.2" stroke="#3a3a3a" stroke-width="1.1"/>
<text x="447.65" y="506.5" class="xt">180</text>
<line x1="490.8" y1="492.9" x2="490.8" y2="497.2" stroke="#3a3a3a" stroke-width="1.1"/>
<text x="490.8" y="506.5" class="xt">270</text>
<line x1="533.95" y1="492.9" x2="533.95" y2="497.2" stroke="#3a3a3a" stroke-width="1.1"/>
<text x="533.95" y="506.5" class="xt">360</text>
<text x="426.8" y="520.4" class="ti">Time (d)</text>
<text x="423.5" y="532.5" class="ti">(d)</text>
<text transform="translate(289.6,388.5) rotate(-90)" class="ti" style="font-size:10.8px">Straw residues (g)</text>
<rect x="308" y="389.5" width="6" height="4.0" fill="#fff"/><line x1="307.0" y1="391.9" x2="314.8" y2="387.6" stroke="#3a3a3a" stroke-width="1.1"/><line x1="307.0" y1="395.7" x2="314.8" y2="391.4" stroke="#3a3a3a" stroke-width="1.1"/>
</svg>
</body></html>
